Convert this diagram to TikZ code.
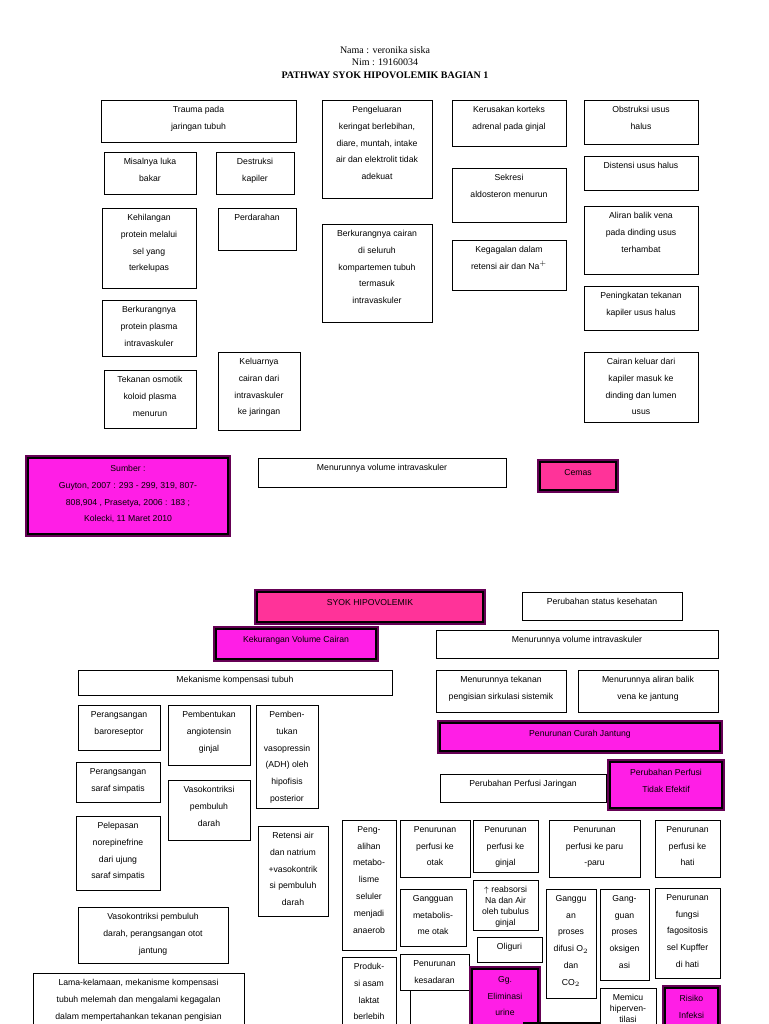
\documentclass[tikz,border=0pt]{standalone}
\usepackage{fontspec}
\setmainfont{Liberation Sans}
\newfontfamily\serifhead{Liberation Serif}
\definecolor{magentabox}{HTML}{FF1EE6}
\definecolor{pinkbox}{HTML}{FF3399}
\definecolor{rimcolor}{HTML}{660055}
\tikzset{
  box/.style={draw=black, line width=0.6pt, fill=white},
  boxtext/.style={anchor=north, align=center, inner sep=0pt,
    font=\fontsize{6.5}{12.6}\selectfont},
  tighttext/.style={boxtext, font=\fontsize{6.5}{8.2}\selectfont},
  rim/.style={draw=rimcolor, line width=0.8pt},
  core/.style={draw=black, line width=1.8pt},
}
% plain box: [text style] name, x1, y1, x2, y2, text (pixel units, y down)
\newcommand\bx[7][boxtext]{%
  \draw[box] (#3,#4) rectangle (#5,#6);
  \node[#1] (#2) at ({(#3+#5)/2},{#4+6}) {#7};}
% double-framed box: fill colour, name, x1, y1, x2, y2, text
\newcommand\dbx[7]{%
  \draw[rim, fill=#1] (#3,#4) rectangle (#5,#6);
  \draw[core] ({#3+2.2},{#4+2.2}) rectangle ({#5-2.2},{#6-2.2});
  \node[boxtext] (#2) at ({(#3+#5)/2},{#4+9}) {#7};}

\begin{document}
\begin{tikzpicture}[x=0.75pt, y=-0.75pt]
\useasboundingbox (0,0) rectangle (768,1024);

% heading
\node[font=\serifhead\fontsize{7.5}{9}\selectfont, align=center] (nama) at (385,56) {Nama : veronika siska\\Nim : 19160034};
\node[font=\serifhead\bfseries\fontsize{7.5}{9}\selectfont] (judul) at (385,75) {PATHWAY SYOK HIPOVOLEMIK BAGIAN 1};

% ---- bagian atas ----
\bx{trauma}{101}{100}{296}{142}{Trauma pada\\jaringan tubuh}
\bx{keringat}{322}{100}{432}{198}{Pengeluaran\\keringat berlebihan,\\diare, muntah, intake\\air dan elektrolit tidak\\adekuat}
\bx{korteks}{452}{100}{566}{146}{Kerusakan korteks\\adrenal pada ginjal}
\bx{obstruksi}{584}{100}{698}{144}{Obstruksi usus\\halus}
\bx{luka}{104}{152}{196}{194}{Misalnya luka\\bakar}
\bx{destruksi}{216}{152}{294}{194}{Destruksi\\kapiler}
\bx{distensi}{584}{156}{698}{190}{Distensi usus halus}
\bx{sekresi}{452}{168}{566}{222}{Sekresi\\aldosteron menurun}
\bx{protein}{102}{208}{196}{288}{Kehilangan\\protein melalui\\sel yang\\terkelupas}
\bx{perdarahan}{218}{208}{296}{250}{Perdarahan}
\bx{cairan}{322}{224}{432}{322}{Berkurangnya cairan\\di seluruh\\kompartemen tubuh\\termasuk\\intravaskuler}
\bx{aliran}{584}{206}{698}{274}{Aliran balik vena\\pada dinding usus\\terhambat}
\bx{retensi}{452}{240}{566}{290}{Kegagalan dalam\\retensi air dan Na$^{+}$}
\bx{plasma}{102}{300}{196}{356}{Berkurangnya\\protein plasma\\intravaskuler}
\bx{kapiler}{584}{286}{698}{330}{Peningkatan tekanan\\kapiler usus halus}
\bx{keluarnya}{218}{352}{300}{430}{Keluarnya\\cairan dari\\intravaskuler\\ke jaringan}
\bx{osmotik}{104}{370}{196}{428}{Tekanan osmotik\\koloid plasma\\menurun}
\bx{lumen}{584}{352}{698}{422}{Cairan keluar dari\\kapiler masuk ke\\dinding dan lumen\\usus}
\dbx{magentabox}{sumber}{26}{456}{230}{536}{Sumber :\\Guyton, 2007 : 293 - 299, 319, 807-\\808,904 , Prasetya, 2006 : 183 ;\\Kolecki, 11 Maret 2010}
\bx{volume}{258}{458}{506}{487}{Menurunnya volume intravaskuler}
\dbx{pinkbox}{cemas}{538}{460}{618}{492}{Cemas}

% ---- bagian bawah ----
\dbx{pinkbox}{syok}{255}{590}{485}{624}{SYOK HIPOVOLEMIK}
\bx{status}{522}{592}{682}{620}{Perubahan status kesehatan}
\dbx{magentabox}{kekurangan}{214}{627}{378}{661}{Kekurangan Volume Cairan}
\bx{volumedua}{436}{630}{718}{658}{Menurunnya volume intravaskuler}
\bx{mekanisme}{78}{670}{392}{695}{Mekanisme kompensasi tubuh}
\bx{tekanan}{436}{670}{566}{712}{Menurunnya tekanan\\pengisian sirkulasi sistemik}
\bx{balik}{578}{670}{718}{712}{Menurunnya aliran balik\\vena ke jantung}
\bx{baro}{78}{705}{160}{750}{Perangsangan\\baroreseptor}
\bx{angiotensin}{168}{705}{250}{765}{Pembentukan\\angiotensin\\ginjal}
\bx{vasopressin}{256}{705}{318}{808}{Pemben-\\tukan\\vasopressin\\(ADH) oleh\\hipofisis\\posterior}
\dbx{magentabox}{curah}{438}{721}{722}{753}{Penurunan Curah Jantung}
\bx{simpatis}{76}{762}{160}{802}{Perangsangan\\saraf simpatis}
\bx{vasokon}{168}{780}{250}{840}{Vasokontriksi\\pembuluh\\darah}
\bx{jaringan}{440}{774}{606}{802}{Perubahan Perfusi Jaringan}
\dbx{magentabox}{perfusi}{608}{760}{724}{810}{Perubahan Perfusi\\Tidak Efektif}
\bx{norepi}{76}{816}{160}{890}{Pelepasan\\norepinefrine\\dari ujung\\saraf simpatis}
\bx{natrium}{258}{826}{328}{916}{Retensi air\\dan natrium\\+vasokontrik\\si pembuluh\\darah}
\bx{anaerob}{342}{820}{396}{950}{Peng-\\alihan\\metabo-\\lisme\\seluler\\menjadi\\anaerob}
\bx{otak}{400}{820}{470}{877}{Penurunan\\perfusi ke\\otak}
\bx{ginjal}{473}{820}{538}{872}{Penurunan\\perfusi ke\\ginjal}
\bx{paru}{549}{820}{640}{877}{Penurunan\\perfusi ke paru\\-paru}
\bx{hati}{655}{820}{720}{877}{Penurunan\\perfusi ke\\hati}
\bx[tighttext]{reabsorsi}{473}{880}{538}{930}{$\uparrow$ reabsorsi\\Na dan Air\\oleh tubulus\\ginjal}
\bx{metabolisme}{400}{889}{466}{946}{Gangguan\\metabolis-\\me otak}
\bx{difusi}{546}{889}{596}{998}{Ganggu\\an\\proses\\difusi O$_2$\\dan\\CO$_2$}
\bx{oksigenasi}{600}{889}{649}{980}{Gang-\\guan\\proses\\oksigen\\asi}
\bx{kupffer}{655}{888}{720}{978}{Penurunan\\fungsi\\fagositosis\\sel Kupffer\\di hati}
\bx{oliguri}{477}{937}{542}{962}{Oliguri}
\bx{laktat}{342}{957}{396}{1040}{Produk-\\si asam\\laktat\\berlebih}
\bx{kesadaran}{400}{954}{469}{990}{Penurunan\\kesadaran}
\coordinate (kesadaranbawah) at (410,1030);
\draw[line width=0.6pt] (410,990) -- (kesadaranbawah);
\dbx{magentabox}{eliminasi}{470}{967}{540}{1040}{Gg.\\Eliminasi\\urine}
\draw[core] (523,1023) -- (600,1023);
\bx[tighttext]{hiperventilasi}{600}{988}{656}{1040}{Memicu\\hiperven-\\tilasi}
\dbx{magentabox}{infeksi}{663}{986}{720}{1040}{Risiko\\Infeksi}
\bx{otot}{78}{907}{228}{963}{Vasokontriksi pembuluh\\darah, perangsangan otot\\jantung}
\bx{lama}{33}{973}{244}{1040}{Lama-kelamaan, mekanisme kompensasi\\tubuh melemah dan mengalami kegagalan\\dalam mempertahankan tekanan pengisian}

\end{tikzpicture}
\end{document}
